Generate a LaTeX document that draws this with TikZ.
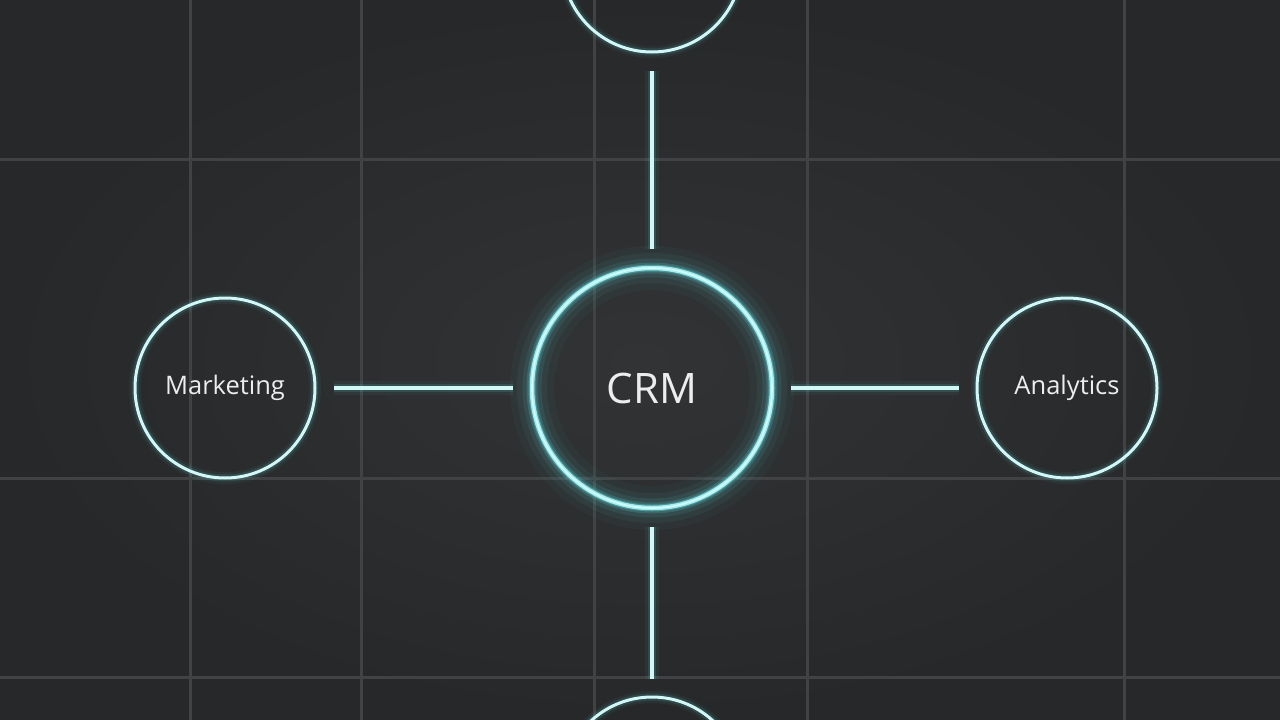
\documentclass[tikz,border=0pt]{standalone}
\usepackage{fontspec}
\setmainfont{Open Sans}
\definecolor{bgin}{HTML}{313334}
\definecolor{bgout}{HTML}{262829}
\definecolor{gridc}{HTML}{404244}
\definecolor{glowc}{HTML}{5FD2D8}
\definecolor{ringc}{HTML}{A3EEF0}
\definecolor{satc}{HTML}{D2F7F7}
\definecolor{corec}{HTML}{E8FFFF}
\definecolor{txt}{HTML}{EDEDED}
\tikzset{
  gridline/.style={gridc, line width=3pt},
  hub/.style={circle, minimum size=240pt, inner sep=0pt, text=txt,
    font=\fontsize{42}{48}\selectfont,
    preaction={draw=glowc, line width=44pt, draw opacity=0.04},
    preaction={draw=glowc, line width=30pt, draw opacity=0.06},
    preaction={draw=glowc, line width=19pt, draw opacity=0.10},
    preaction={draw=glowc, line width=11pt, draw opacity=0.20},
    preaction={draw=glowc, line width=7pt, draw opacity=0.40},
    draw=ringc, line width=4.5pt,
    postaction={draw=corec, line width=1.6pt, draw opacity=0.7}},
  sat/.style={circle, minimum size=180pt, inner sep=0pt, text=txt,
    font=\fontsize{25.5}{30}\selectfont,
    preaction={draw=glowc, line width=12pt, draw opacity=0.06},
    preaction={draw=glowc, line width=7pt, draw opacity=0.14},
    draw=satc, line width=3pt},
  link/.style={shorten <=17pt, shorten >=17pt,
    preaction={draw=glowc, line width=14pt, draw opacity=0.06, shorten <=17pt, shorten >=17pt},
    preaction={draw=glowc, line width=8pt, draw opacity=0.15, shorten <=17pt, shorten >=17pt},
    draw=satc, line width=3.5pt},
}
\begin{document}
\begin{tikzpicture}[x=1pt,y=-1pt]
\useasboundingbox (0,0) rectangle (1280,720);
\shade[inner color=bgin, outer color=bgout] (0,0) rectangle (1280,720);
% grid
\foreach \x in {190,361,594,807,1124} \draw[gridline] (\x,0) -- (\x,720);
\foreach \y in {159,478,677} \draw[gridline] (0,\y) -- (1280,\y);
% nodes
\node[hub] (crm) at (652,388) {CRM};
\node[sat] (mkt) at (225,388) {Marketing};
\node[sat] (ana) at (1067,388) {Analytics};
\node[sat] (top) at (652,-38) {};
\node[sat] (bot) at (652,787) {};
% links
\draw[link] (crm) -- (mkt);
\draw[link] (crm) -- (ana);
\draw[link] (crm) -- (top);
\draw[link] (crm) -- (bot);
\end{tikzpicture}
\end{document}
